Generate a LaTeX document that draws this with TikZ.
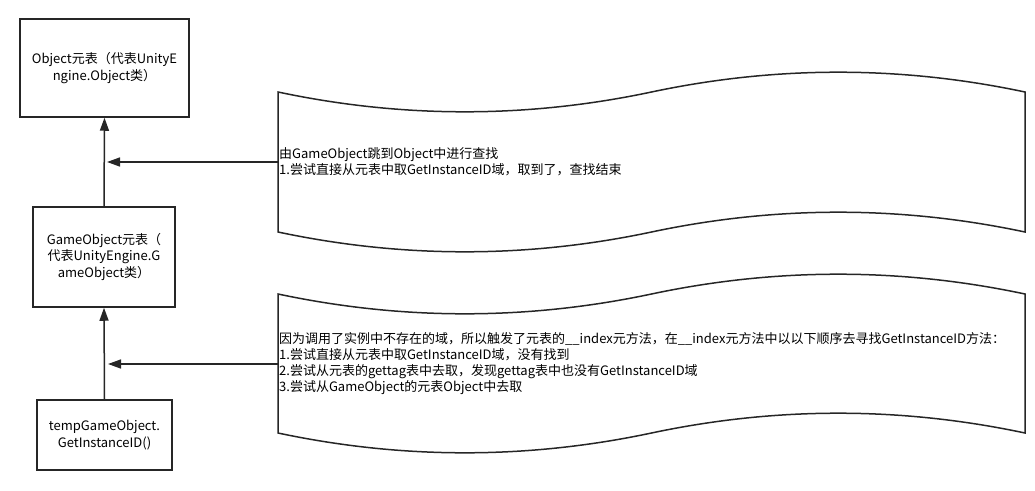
\documentclass[tikz,border=0pt]{standalone}
\usepackage{fontspec}
\newfontfamily\cjk{Noto Sans CJK SC}
\usetikzlibrary{arrows.meta}
\begin{document}
\begin{tikzpicture}[x=1pt,y=-1pt,
    line/.style={draw=black!85,line width=1.5pt},
    metabox/.style={line,font=\cjk\fontsize{13}{16.5}\selectfont,align=center,inner sep=0pt},
    note/.style={font=\cjk\fontsize{13}{16}\selectfont,align=left,inner sep=0pt,anchor=west},
    arr/.style={line,-{Triangle[length=13pt,width=9pt]}}]
    \useasboundingbox (0,0) rectangle (1035,490);
    % metatable chain
    \node[metabox,minimum width=169pt,minimum height=98pt] (obj) at (104.5,68)
        {Object元表（代表UnityE\\ngine.Object类）};
    \node[metabox,minimum width=142pt,minimum height=100pt] (go) at (104,257)
        {GameObject元表（\\代表UnityEngine.G\\ameObject类）};
    \node[metabox,minimum width=135pt,minimum height=70pt] (call) at (104.5,435)
        {tempGameObject.\\GetInstanceID()};
    \draw[arr] (go.north) -- (obj.south);
    \draw[arr] (call.north) -- (go.south);
    % tapes
    \foreach \t/\b in {92/232,294/433} {
        \draw[line] (278,\t) .. controls (402.5,\t+26.4) and (527,\t+26.4) .. (651.5,\t)
            .. controls (776,\t-26.4) and (900.5,\t-26.4) .. (1025,\t) -- (1025,\b)
            .. controls (900.5,\b-26.4) and (776,\b-26.4) .. (651.5,\b)
            .. controls (527,\b+26.4) and (402.5,\b+26.4) .. (278,\b) -- cycle;
    }
    \node[note] (tape1) at (279,162)
        {由GameObject跳到Object中进行查找\\1.尝试直接从元表中取GetInstanceID域，取到了，查找结束};
    \node[note] (tape2) at (279,364)
        {因为调用了实例中不存在的域，所以触发了元表的\_\_index元方法，在\_\_index元方法中以以下顺序去寻找GetInstanceID方法：\\1.尝试直接从元表中取GetInstanceID域，没有找到\\2.尝试从元表的gettag表中去取，发现gettag表中也没有GetInstanceID域\\3.尝试从GameObject的元表Object中去取};
    \coordinate (hit1) at (107,162);
    \coordinate (hit2) at (108,364);
    \draw[arr] (tape1.west) -- (hit1);
    \draw[arr] (tape2.west) -- (hit2);
\end{tikzpicture}
\end{document}
